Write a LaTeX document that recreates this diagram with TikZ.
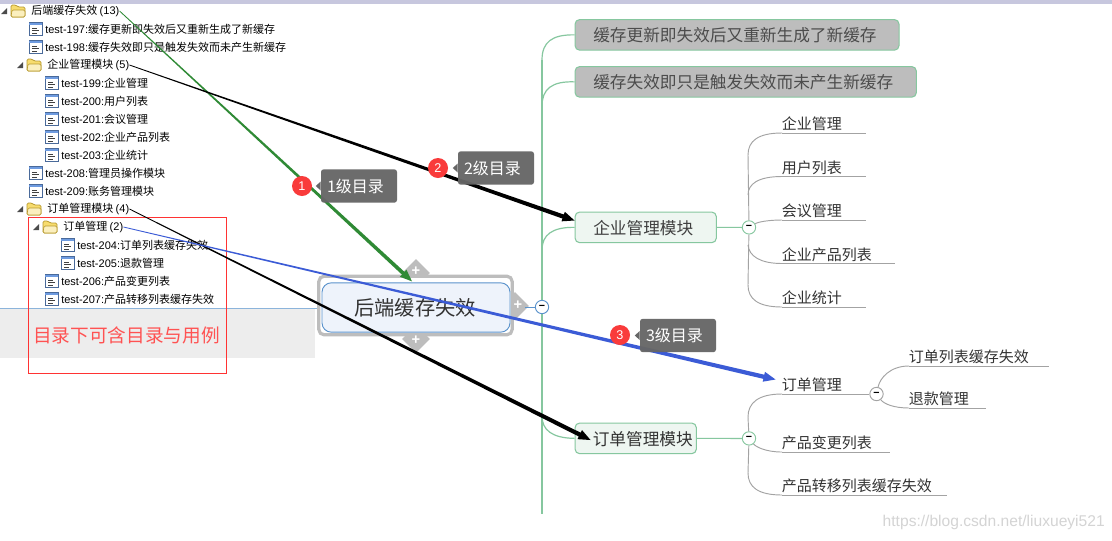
\documentclass[tikz,border=0pt]{standalone}
\usepackage{fontspec}
\setmainfont{Noto Sans CJK SC}
\newfontfamily\lat{Liberation Sans}
\usetikzlibrary{calc,shapes.geometric}
\definecolor{gline}{HTML}{86C79F}
\definecolor{gfill}{HTML}{EEF6F1}
\definecolor{gbox}{HTML}{BDBDBD}
\definecolor{graybr}{HTML}{A3A3A3}
\definecolor{tip}{HTML}{666666}
\definecolor{badge}{HTML}{F93B3B}
\definecolor{ared}{HTML}{FF3333}
\definecolor{ablue}{HTML}{3B5BD6}
\definecolor{agreen}{HTML}{2F8A35}
\definecolor{cblue}{HTML}{5B93CC}
\definecolor{cfill}{HTML}{EEF3FB}
\definecolor{ftxt}{HTML}{F7DC6E}
\definecolor{fedge}{HTML}{B89A30}
\definecolor{docedge}{HTML}{4A6A9A}
\definecolor{doctop}{HTML}{6E9BE0}
\tikzset{
 treetxt/.style={anchor=west,inner sep=0pt,font=\fontsize{8.25}{10}\selectfont,text=black},
 topicbox/.style={draw=gline,line width=.8pt,rounded corners=3.5pt,inner sep=0pt,anchor=north west,font=\fontsize{12.5}{15}\selectfont,text=black!75!green!70!gray},
 leaftxt/.style={anchor=west,inner sep=0pt,font=\fontsize{11.25}{13}\selectfont,text=black!80},
 trunk/.style={draw=gline,line width=.9pt},
 gbranch/.style={draw=graybr,line width=.7pt},
 tiptxt/.style={fill=tip,rounded corners=2pt,inner sep=0pt,text=white,font=\fontsize{12}{14}\selectfont,opacity=.96,text opacity=1},
 badgec/.style={circle,fill=badge,inner sep=0pt,minimum size=15pt,text=white,font=\lat\fontsize{9.5}{10}\selectfont},
 collapse/.style={circle,fill=white,line width=.7pt,inner sep=0pt,minimum size=10pt,font=\lat\bfseries\fontsize{8}{8}\selectfont,text=black},
 dmd/.style={diamond,fill=gbox,inner sep=0pt,minimum size=21pt},
 plusmark/.style={inner sep=0pt,text=white,font=\lat\bfseries\fontsize{11}{11}\selectfont},
}
% tapered arrow: from, to, colour, half width start, half width end, head half width, head length
\newcommand{\taper}[7]{%
 \coordinate (tpe) at ($(#2)!#7!(#1)$);
 \fill[#3] ($(#1)!#4!90:(#2)$) -- ($(tpe)!#5!-90:(#1)$) -- ($(tpe)!#6!-90:(#1)$) -- (#2) -- ($(tpe)!#6!90:(#1)$) -- ($(tpe)!#5!90:(#1)$) -- ($(#1)!#4!-90:(#2)$) -- cycle;}
% tree icons
\newcommand{\docicon}[2]{%
 \begin{scope}[shift={(#1,#2)}]
  \draw[docedge,line width=.6pt,fill=white] (0,-6.5) rectangle (13,6.5);
  \fill[doctop] (.4,-6.1) rectangle (12.6,-3.8);
  \draw[black!75,line width=.55pt] (3,-1) -- (8,-1) (3,1.5) -- (10,1.5) (3,4) -- (8,4);
 \end{scope}}
\newcommand{\foldicon}[2]{%
 \begin{scope}[shift={(#1,#2)}]
  \draw[fedge,fill=ftxt,line width=.6pt,rounded corners=1pt] (-7,6) -- (-7,-6) -- (-2,-6) -- (0,-4) -- (7,-4) -- (7,6) -- cycle;
  \draw[fedge,fill=ftxt!45,line width=.5pt,rounded corners=1pt] (-7,6) -- (-6,-1) -- (7,-1) -- (7,6) -- cycle;
 \end{scope}}
\newcommand{\tritog}[2]{\fill[black!70] (#1+3,#2-3) -- (#1+3,#2+3) -- (#1-3,#2+3) -- cycle;}
\newcommand{\leafrow}[5]{% name,iconx,y,latin,cjk
 \docicon{#2}{#3}
 \node[treetxt] (#1) at (#2+16,#3) {{\lat #4}#5};}
\newcommand{\dirrow}[5]{% name,folderx,y,cjk,count
 \tritog{#2-14}{#3}
 \foldicon{#2}{#3}
 \node[treetxt] (#1) at (#2+13,#3) {#4 {\lat (#5)}};}
\begin{document}
\begin{tikzpicture}[x=.75pt,y=-.75pt]
\useasboundingbox (0,0) rectangle (1112,540);
\fill[white] (0,0) rectangle (1112,540);
\fill[blue!25!gray!35!white] (0,0) rectangle (1112,4);
% grey panel
\fill[black!7] (0,308) rectangle (315,358);
\draw[cblue!70,line width=.7pt] (0,308) -- (318,308);

% tree
\dirrow{root}{18}{11}{后端缓存失效}{13}
\leafrow{t197}{29}{29}{test-197:}{缓存更新即失效后又重新生成了新缓存}
\leafrow{t198}{29}{47}{test-198:}{缓存失效即只是触发失效而未产生新缓存}
\dirrow{dqy}{34}{65}{企业管理模块}{5}
\leafrow{t199}{45}{83}{test-199:}{企业管理}
\leafrow{t200}{45}{101}{test-200:}{用户列表}
\leafrow{t201}{45}{119}{test-201:}{会议管理}
\leafrow{t202}{45}{137}{test-202:}{企业产品列表}
\leafrow{t203}{45}{155}{test-203:}{企业统计}
\leafrow{t208}{29}{173}{test-208:}{管理员操作模块}
\leafrow{t209}{29}{191}{test-209:}{账务管理模块}
\dirrow{ddd}{34}{209}{订单管理模块}{4}
\dirrow{ddg}{50}{227}{订单管理}{2}
\leafrow{t204}{61}{245}{test-204:}{订单列表缓存失效}
\leafrow{t205}{61}{263}{test-205:}{退款管理}
\leafrow{t206}{45}{281}{test-206:}{产品变更列表}
\leafrow{t207}{45}{299}{test-207:}{产品转移列表缓存失效}

% red note
\node[draw=ared,line width=.7pt,minimum width=148.5pt,minimum height=117pt,inner sep=0pt,anchor=north west] (note) at (28,217) {};
\node[inner sep=0pt,text=ared!85,font=\fontsize{14}{16}\selectfont] (notetxt) at (126.5,335) {目录下可含目录与用例};

% right map: trunk and branches
\coordinate (trtop) at (542,60);
\coordinate (trbot) at (542,514);
\node[topicbox,fill=gbox,minimum width=243pt,minimum height=23pt] (m1) at (574.5,19) {};
\node[inner sep=0pt,anchor=west,font=\fontsize{12.5}{15}\selectfont,text=black!70] (m1t) at (593,35.5) {缓存更新即失效后又重新生成了新缓存};
\node[topicbox,fill=gbox,minimum width=256pt,minimum height=23pt] (m2) at (574.5,66) {};
\node[inner sep=0pt,anchor=west,font=\fontsize{12.5}{15}\selectfont,text=black!70] (m2t) at (593,82.5) {缓存失效即只是触发失效而未产生新缓存};
\node[topicbox,fill=gfill,minimum width=106pt,minimum height=23pt] (m3) at (574.5,211.5) {};
\node[inner sep=0pt,anchor=west,font=\fontsize{12.5}{15}\selectfont,text=black!75] (m3t) at (593,228) {企业管理模块};
\node[topicbox,fill=gfill,minimum width=91pt,minimum height=23pt] (m4) at (574.5,422.5) {};
\node[inner sep=0pt,anchor=west,font=\fontsize{12.5}{15}\selectfont,text=black!80] (m4t) at (592.5,439) {订单管理模块};

\draw[trunk] (trtop) -- (trbot);
\draw[trunk] (trtop) .. controls (542,42) and (552,34.5) .. (m1.west);
\draw[trunk] (542,106) .. controls (542,89) and (552,81) .. (m2.west);
\draw[trunk] (542,250) .. controls (542,235) and (552,227) .. (m3.west);
\draw[trunk] (542,416) .. controls (542,430) and (552,438) .. (m4.west);

% centre topic
\node[dmd] (dtop) at (416,273) {};
\node[dmd] (dbot) at (416,339) {};
\node[dmd] (dright) at (515,306) {};
\node[draw=gbox,line width=2.4pt,fill=white,rounded corners=4pt,minimum width=145pt,minimum height=44pt,inner sep=0pt] (ctrframe) at (415.5,305.5) {};
\node[draw=cblue,line width=.7pt,fill=cfill,rounded corners=7pt,minimum width=141pt,minimum height=37pt,inner sep=0pt,font=\fontsize{15.2}{18}\selectfont,text=black!80] (ctr) at (416,307.5) {\hspace{-1.5pt}后端缓存失效};
\node[plusmark] (ptop) at (416,271) {+};
\node[plusmark] (pbot) at (416,340) {+};
\node[plusmark] (pright) at (518,305) {+};
\node[collapse,draw=cblue,text=black] (cmain) at (542,307) {−};
\draw[cblue,line width=.7pt] (525,307) -- (cmain);

% enterprise module children
\node[collapse,draw=gline] (c3) at (749,227.4) {−};
\draw[trunk] (m3.east) -- (c3);
\foreach \nm/\tx/\yy in {a1/企业管理/123.5,a2/用户列表/167.5,a3/会议管理/210.5,a4/企业产品列表/254.5,a5/企业统计/298}{
 \node[leaftxt] (\nm) at (781.5,\yy) {\tx};
}
\draw[gbranch] (782,133) -- (866,133) (782,176.5) -- (866,176.5) (782,220) -- (866,220) (782,263.5) -- (895,263.5) (782,307) -- (866,307);
\draw[gbranch] (c3) -- (748,155);
\draw[gbranch] (748,155) .. controls (748,141) and (758,133) .. (782,133);
\draw[gbranch] (748,195) .. controls (748,184) and (758,176.5) .. (782,176.5);
\draw[gbranch] (c3) .. controls (758,222) and (768,220) .. (782,220);
\draw[gbranch] (c3) -- (748,285);
\draw[gbranch] (748,245) .. controls (749,256) and (760,263.5) .. (782,263.5);
\draw[gbranch] (748,285) .. controls (748,299) and (758,307) .. (782,307);

% order module children
\node[collapse,draw=gline] (c4) at (749,438.4) {−};
\draw[trunk] (m4.east) -- (c4);
\node[leaftxt] (b1) at (781.5,384.5) {订单管理};
\node[leaftxt] (b2) at (781.5,442.5) {产品变更列表};
\node[leaftxt] (b3) at (781.5,485.5) {产品转移列表缓存失效};
\node[leaftxt] (b11) at (908.5,356.5) {订单列表缓存失效};
\node[leaftxt] (b12) at (908.5,398.5) {退款管理};
\node[collapse,draw=graybr] (c5) at (876.5,394) {−};
\draw[gbranch] (782,394) -- (c5);
\draw[gbranch] (782,452) -- (890,452) (782,495) -- (947,495) (909,366) -- (1049,366) (909,408) -- (986,408);
\draw[gbranch] (c4) -- (748,417);
\draw[gbranch] (748,417) .. controls (748,403) and (758,394) .. (782,394);
\draw[gbranch] (c4) .. controls (756,447) and (766,452) .. (782,452);
\draw[gbranch] (c4) -- (748,473);
\draw[gbranch] (748,473) .. controls (748,487) and (758,495) .. (782,495);
\draw[gbranch] (c5) .. controls (880,378) and (890,366) .. (909,366);
\draw[gbranch] (c5) .. controls (884,404) and (894,408) .. (909,408);

% annotation arrows
\coordinate (gend) at ($(ctr.north)+(-4,-1)$);
\coordinate (k1end) at ($(m3.north west)+(0,9)$);
\coordinate (k2end) at ($(m4t.west)+(-2,1)$);
\coordinate (bend) at ($(b1.west)+(-6,-5)$);
\taper{root.east}{gend}{agreen}{.3pt}{1.4pt}{3.6pt}{9pt}
\taper{dqy.east}{k1end}{black}{.3pt}{1.6pt}{3.8pt}{9pt}
\taper{ddd.east}{k2end}{black}{.3pt}{1.6pt}{3.8pt}{9pt}
\taper{ddg.east}{bend}{ablue}{.3pt}{1.6pt}{3.8pt}{9pt}

% tooltips
\foreach \nm/\tx/\nn/\bx/\by/\cx/\cy in {tipa/1级目录/1/302/186/359/186,tipb/2级目录/2/438/168/496/168,tipc/3级目录/3/620/335/678/335.5}{
 \node[tiptxt,minimum width=57pt,minimum height=25pt] (\nm) at (\cx,\cy) {};
 \fill[tip] ($(\nm.west)+(-5,0)$) -- ($(\nm.west)+(0,-4.5)$) -- ($(\nm.west)+(0,4.5)$) -- cycle;
 \node[inner sep=0pt,text=white,font=\fontsize{12}{14}\selectfont] at ($(\nm)+(-3.5,0)$) {\tx};
 \node[badgec] (\nm-b) at (\bx,\by) {\nn};
}
% watermark
\node[inner sep=0pt,anchor=east,text=black!17,font=\lat\fontsize{11.7}{14}\selectfont] (wm) at (1105,522) {https://blog.csdn.net/liuxueyi521};
\end{tikzpicture}
\end{document}
